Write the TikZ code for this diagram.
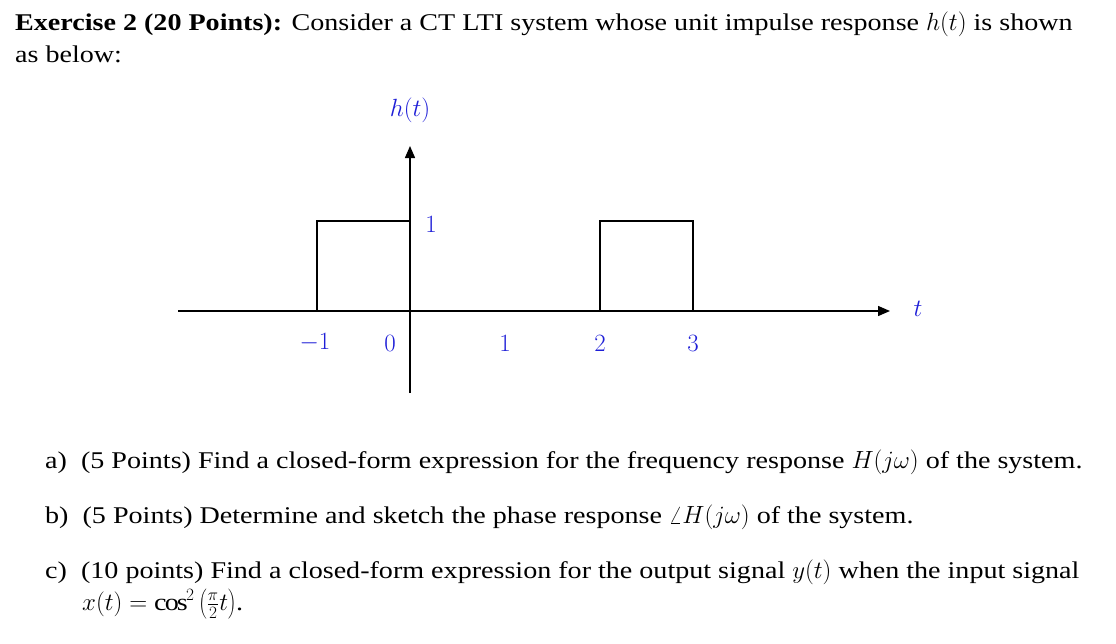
\documentclass[tikz,border=0pt]{standalone}
\usepackage{fontspec}
\setmainfont{Liberation Serif}[FakeStretch=1.17]
\usetikzlibrary{arrows.meta}
\definecolor{lblue}{RGB}{30,30,215}
\begin{document}
\begin{tikzpicture}[x=1pt,y=-1pt,
  txt/.style={anchor=base west,inner sep=0pt,font=\fontsize{24}{28}\selectfont},
  lab/.style={text=lblue,inner sep=0pt,font=\fontsize{33}{38}\selectfont},
  ax/.style={line width=1.4pt,-{Triangle[length=12pt,width=10pt]}},
  sig/.style={line width=1.1pt}]
\useasboundingbox (0,0) rectangle (1116,643);
\node[txt] (l1) at (15,30) {\textbf{Exercise 2 (20 Points):} Consider a CT LTI system whose unit impulse response $h(t)$ is shown};
\node[txt] (l2) at (15,62) {as below:};
\coordinate (xs) at (178,311); \coordinate (xe) at (890,311);
\coordinate (ys) at (410,393); \coordinate (ye) at (410,146);
\draw[ax] (xs) -- (xe);
\draw[ax] (ys) -- (ye);
\draw[sig] (317,311) -- (317,221) -- (410,221);
\draw[sig] (600,311) -- (600,221) -- (693,221) -- (693,311);
\node[lab] (ht) at (410,110) {$h(t)$};
\node[lab] (tt) at (918,309) {$t$};
\node[lab] (one) at (431,224) {$1$};
\node[lab] (m1) at (315,343) {$-1$};
\node[lab] (z) at (390,343) {$0$};
\node[lab] (p1) at (505,343) {$1$};
\node[lab] (p2) at (600,343) {$2$};
\node[lab] (p3) at (693,343) {$3$};
\node[txt] (a) at (45,468) {a)\ \ (5 Points) Find a closed-form expression for the frequency response $H(j\omega)$ of the system.};
\node[txt] (b) at (45,523) {b)\ \ (5 Points) Determine and sketch the phase response $\angle H(j\omega)$ of the system.};
\node[txt] (c) at (45,578) {c)\ \ (10 points) Find a closed-form expression for the output signal $y(t)$ when the input signal};
\node[txt] (c2) at (82,610) {$x(t)=\cos^2\left(\frac{\pi}{2}t\right)$.};
\end{tikzpicture}
\end{document}
